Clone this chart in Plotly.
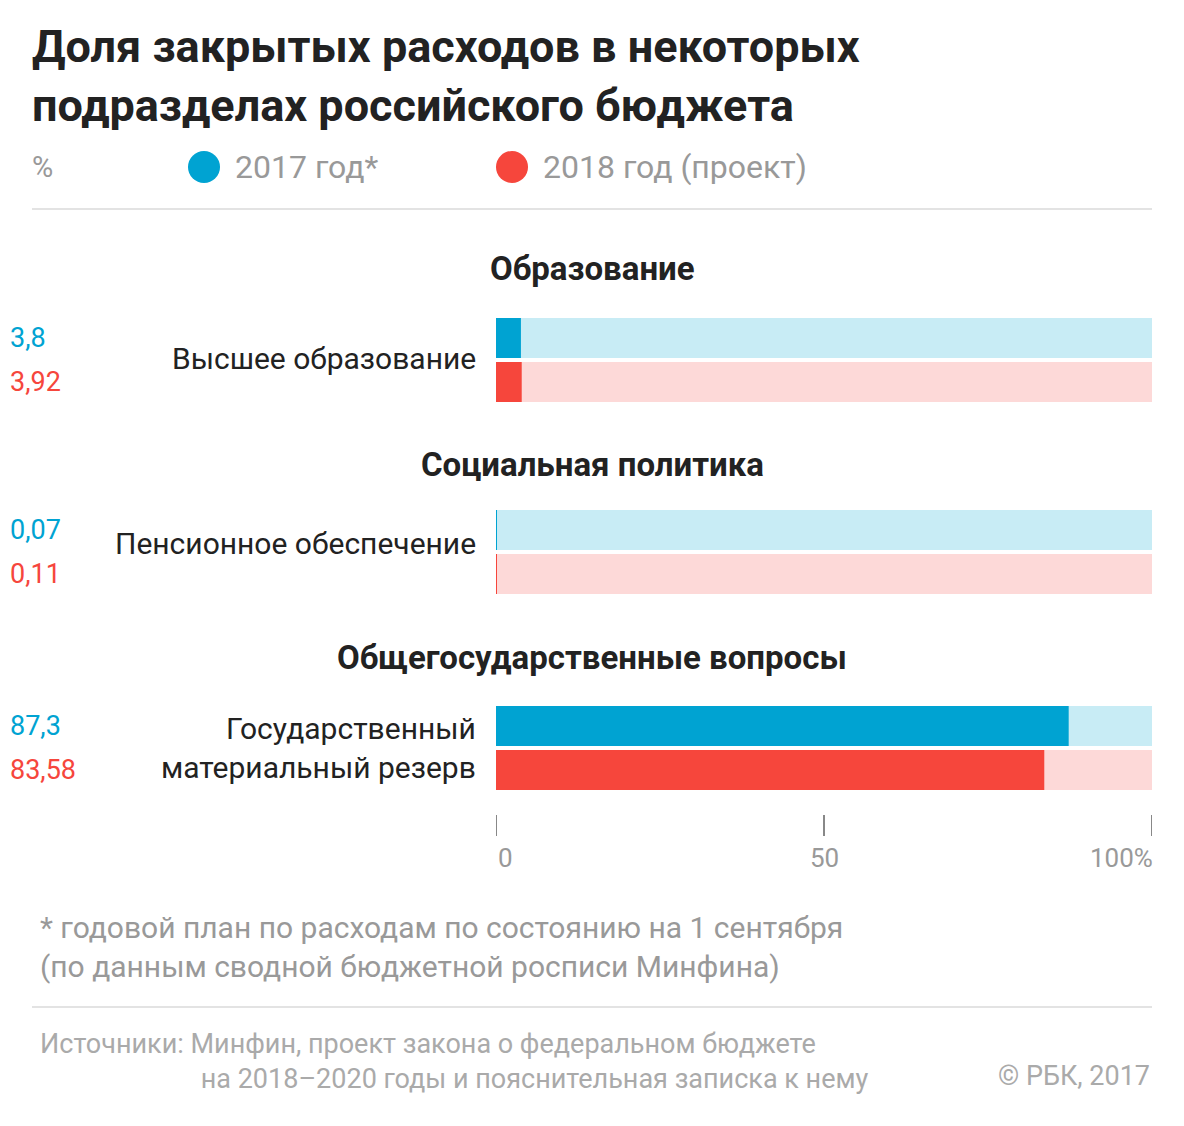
import plotly.graph_objects as go

sections = ["Образование", "Социальная политика", "Общегосударственные вопросы"]
items = ["Высшее образование", "Пенсионное обеспечение", "Государственный<br>материальный резерв"]
v2017 = [3.8, 0.07, 87.3]
v2018 = [3.92, 0.11, 83.58]
lab2017 = ["3,8", "0,07", "87,3"]
lab2018 = ["3,92", "0,11", "83,58"]
ticks = [0, 50, 100]
tick_labels = ["0", "50", "100%"]

BLUE, BLUE_L = "#00a3d2", "#c8ecf5"
RED, RED_L = "#f6463c", "#fdd9d8"
FONT = "Roboto"
OFF = 8  # page offset compensation


def px(x):
    return (x - OFF) / 1184


def py(y):
    return y - OFF


y_blue = [py(v) for v in [338, 530, 726]]
y_red = [py(v) for v in [382, 574, 770]]
y_sec = [py(v) for v in [268, 464, 657]]
y_item = [py(v) for v in [358, 543, 748]]

fig = go.Figure()
for ys, vals, dark, light in [(y_blue, v2017, BLUE, BLUE_L), (y_red, v2018, RED, RED_L)]:
    fig.add_trace(go.Bar(x=[100] * 3, y=ys, orientation="h", width=40,
                         marker=dict(color=light, line_width=0), hoverinfo="skip"))
    fig.add_trace(go.Bar(x=vals, y=ys, orientation="h", width=40,
                         marker=dict(color=dark, line_width=0)))

ann = []
for i in range(3):
    for ys, v, lab, col in [(y_blue, v2017, lab2017, BLUE), (y_red, v2018, lab2018, RED)]:
        ann.append(dict(x=v, y=ys[i], xref="x", yref="y", text=lab[i], xanchor="left", xshift=10,
                        showarrow=False, font=dict(size=27, color=col, family=FONT)))
    ann.append(dict(x=0, y=y_item[i], xref="x", yref="y", text=items[i], xanchor="right", xshift=-18,
                    showarrow=False, align="right",
                    font=dict(size=30, color="#222", family=FONT)))
    ann.append(dict(x=px(592), xref="paper", yref="y", y=y_sec[i], text="<b>" + sections[i] + "</b>",
                    showarrow=False, font=dict(size=33, color="#222", family=FONT)))
for t, tl in zip(ticks, tick_labels):
    ann.append(dict(x=t, y=py(858), xref="x", yref="y", text=tl, showarrow=False,
                    xanchor="right" if t == 100 else ("left" if t == 0 else "center"),
                    xshift=3 if t == 100 else 0,
                    font=dict(size=26, color="#999", family=FONT)))


def txt(x, y, s, size, col, bold=False, anchor="left"):
    ann.append(dict(x=px(x), y=py(y), xref="paper", yref="y", text=("<b>%s</b>" % s) if bold else s,
                    xanchor=anchor, showarrow=False, align="left",
                    font=dict(size=size, color=col, family=FONT)))


txt(30, 76, "Доля закрытых расходов в некоторых<br>подразделах российского бюджета", 45, "#222", True)
txt(30, 167, "%", 29, "#999")
txt(233, 167, "2017 год*", 32, "#999")
txt(541, 167, "2018 год (проект)", 32, "#999")
txt(38, 947, "* годовой план по расходам по состоянию на 1 сентября<br>(по данным сводной бюджетной росписи Минфина)", 30, "#999")
txt(38, 1061, "Источники: Минфин, проект закона о федеральном бюджете<br>                        на 2018–2020 годы и пояснительная записка к нему", 27, "#aaa")
txt(1152, 1076, "© РБК, 2017", 27, "#aaa", anchor="right")

shapes = [
    dict(type="circle", xref="paper", x0=px(188), x1=px(220), y0=py(151), y1=py(183),
         fillcolor=BLUE, line_width=0),
    dict(type="circle", xref="paper", x0=px(496), x1=px(528), y0=py(151), y1=py(183),
         fillcolor=RED, line_width=0),
    dict(type="line", xref="paper", x0=px(32), x1=px(1152), y0=py(209), y1=py(209),
         line=dict(color="#e3e3e3", width=2)),
    dict(type="line", xref="paper", x0=px(32), x1=px(1152), y0=py(1007), y1=py(1007),
         line=dict(color="#e3e3e3", width=2)),
]
for t in ticks:
    shapes.append(dict(type="line", x0=t, x1=t, y0=py(815), y1=py(836),
                       line=dict(color="#888", width=2)))

fig.update_layout(
    width=1184, height=1126, margin=dict(l=0, r=0, t=0, b=0),
    paper_bgcolor="white", plot_bgcolor="white", showlegend=False,
    barmode="overlay", annotations=ann, shapes=shapes,
    xaxis=dict(domain=[px(496), px(1152)], range=[0, 100], visible=False, fixedrange=True),
    yaxis=dict(domain=[0, 1], range=[1126, 0], visible=False, fixedrange=True),
)
fig.write_html("out.html")
